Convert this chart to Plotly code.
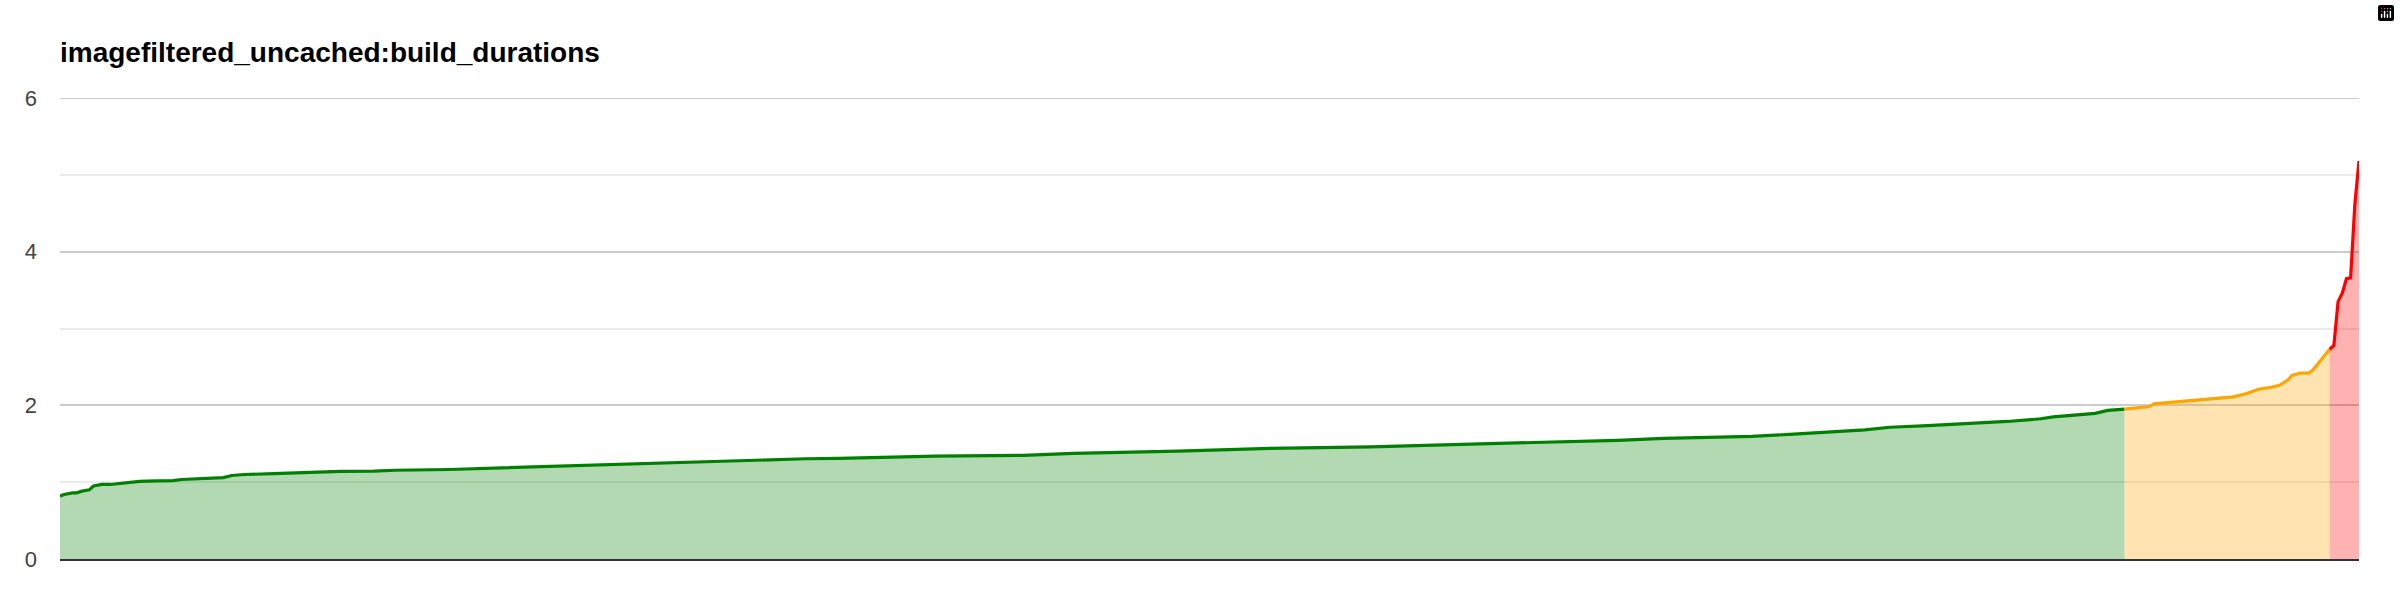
import plotly.graph_objects as go

green_rank = [0, 1, 3, 4, 5, 7, 8, 10, 12, 14, 16, 19, 23, 27, 29, 35, 39, 41, 44,
              51, 55, 59, 67, 75, 80, 93, 102, 117, 129, 141, 154, 166, 178, 186,
              194, 209, 230, 242, 267, 289, 313, 328, 352, 372, 383, 404, 414, 431,
              437, 446, 465, 473, 476, 486, 489, 493]
green_secs = [0.82, 0.84, 0.86, 0.86, 0.88, 0.90, 0.95, 0.97, 0.97, 0.98, 1.00, 1.01,
              1.017, 1.02, 1.035, 1.048, 1.06, 1.087, 1.10, 1.11, 1.118, 1.122, 1.14,
              1.143, 1.155, 1.165, 1.18, 1.20, 1.22, 1.245, 1.26, 1.29, 1.305, 1.31,
              1.32, 1.34, 1.35, 1.375, 1.405, 1.44, 1.46, 1.48, 1.515, 1.545, 1.57,
              1.595, 1.625, 1.68, 1.715, 1.735, 1.79, 1.825, 1.85, 1.895, 1.935, 1.95]

orange_rank = [493, 495, 499, 500, 506, 511, 519, 522, 525, 528, 530, 532, 533, 535,
               537, 538, 540, 542]
orange_secs = [1.95, 1.96, 1.985, 2.02, 2.05, 2.08, 2.11, 2.15, 2.21, 2.235, 2.26,
               2.33, 2.39, 2.42, 2.42, 2.46, 2.59, 2.73]

red_rank = [542, 543, 544, 545, 546, 547, 548, 549]
red_secs = [2.73, 2.78, 3.35, 3.46, 3.65, 3.66, 4.61, 5.18]

segments = [
    (green_rank, green_secs, "#008000", "rgba(0,128,0,0.3)"),
    (orange_rank, orange_secs, "#FFA500", "rgba(255,165,0,0.3)"),
    (red_rank, red_secs, "#FF0000", "rgba(255,0,0,0.3)"),
]

fig = go.Figure()
for xs, ys, line_c, fill_c in segments:
    fig.add_trace(go.Scatter(x=xs, y=ys, mode="lines", fill="tozeroy",
                             line=dict(color=line_c, width=3.2),
                             fillcolor=fill_c, showlegend=False))

fig.update_layout(
    width=2400, height=600,
    margin=dict(l=60, r=41, t=98, b=41),
    paper_bgcolor="white", plot_bgcolor="white",
    font=dict(family="Arial, Liberation Sans, sans-serif"),
    title=dict(text="<b>imagefiltered_uncached:build_durations</b>",
               x=60 / 2400, xanchor="left", xref="container",
               y=1 - 52 / 600, yanchor="middle", yref="container",
               font=dict(size=28, color="#000000")),
    # keep the modebar buttons invisible
    modebar=dict(bgcolor="rgba(0,0,0,0)", color="rgba(0,0,0,0)",
                 activecolor="rgba(0,0,0,0)"),
)
fig.update_xaxes(range=[0, 549], showgrid=False, zeroline=False,
                 showticklabels=False, ticks="",
                 showline=True, linecolor="#333333", linewidth=2)
fig.update_yaxes(range=[0, 6], dtick=2, showgrid=True, gridcolor="#cccccc",
                 gridwidth=2, zeroline=False,
                 minor=dict(dtick=1, showgrid=True, gridcolor="#ebebeb", gridwidth=2),
                 tickfont=dict(size=22, color="#444444"), ticklabelstandoff=22)
# gridline at the very top of the range, which plotly leaves out
fig.add_hline(y=6, line_color="#cccccc", line_width=2, layer="below")

fig.write_html("out.html", post_script="document.body.style.margin='0';")
